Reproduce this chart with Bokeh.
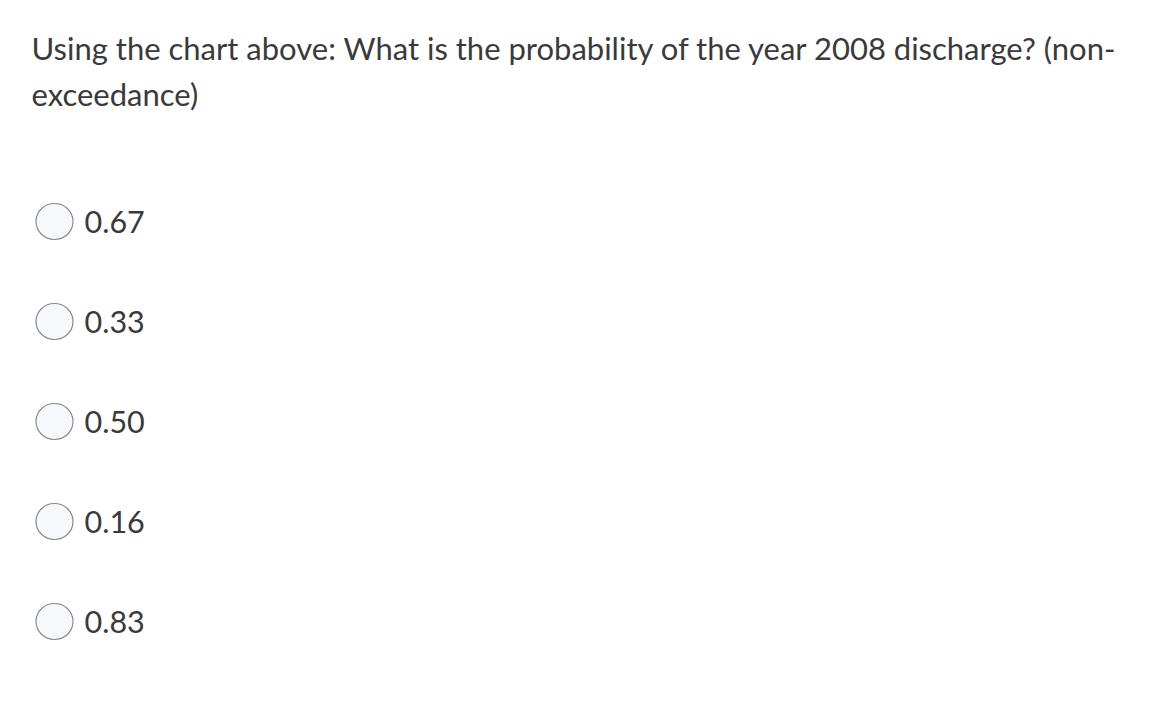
from bokeh.plotting import figure
from bokeh.models import Range1d, ColumnDataSource
from bokeh.core.properties import value
from bokeh.embed import file_html
from bokeh.resources import INLINE

question_lines = [
    "Using the chart above: What is the probability of the year 2008 discharge? (non-",
    "exceedance)",
]
options = ["0.67", "0.33", "0.50", "0.16", "0.83"]

W, H = 1158, 692
p = figure(width=W, height=H, output_backend="svg", toolbar_location=None,
           x_range=Range1d(0, W), y_range=Range1d(H, 0), min_border=0)
p.axis.visible = False
p.grid.visible = False
p.outline_line_color = None
p.background_fill_color = "white"
p.border_fill_color = "white"

FONT = value("Lato")
TEXT_COLOR = "#3a3a3a"

# Question text
q_y0, q_step = 47, 46
qsrc = ColumnDataSource(dict(
    x=[31] * len(question_lines),
    y=[q_y0 + i * q_step for i in range(len(question_lines))],
    t=question_lines,
))
p.text(x="x", y="y", text="t", source=qsrc, text_font=FONT,
       text_font_size="31px", text_color=TEXT_COLOR,
       text_baseline="middle", text_align="left")

# Options
o_y0, o_step = 221, 100
ys = [o_y0 + i * o_step for i in range(len(options))]
osrc = ColumnDataSource(dict(
    cx=[54] * len(options),
    tx=[84] * len(options),
    y=ys,
    t=options,
))
p.ellipse(x="cx", y="y", width=37, height=36, source=osrc,
          fill_color="#f7f8fc", line_color="#8a8a8a", line_width=1.2)
p.text(x="tx", y="y", text="t", source=osrc, text_font=FONT,
       text_font_size="30.5px", text_color=TEXT_COLOR,
       text_baseline="middle", text_align="left")

open("out.html", "w").write(file_html(p, INLINE))
